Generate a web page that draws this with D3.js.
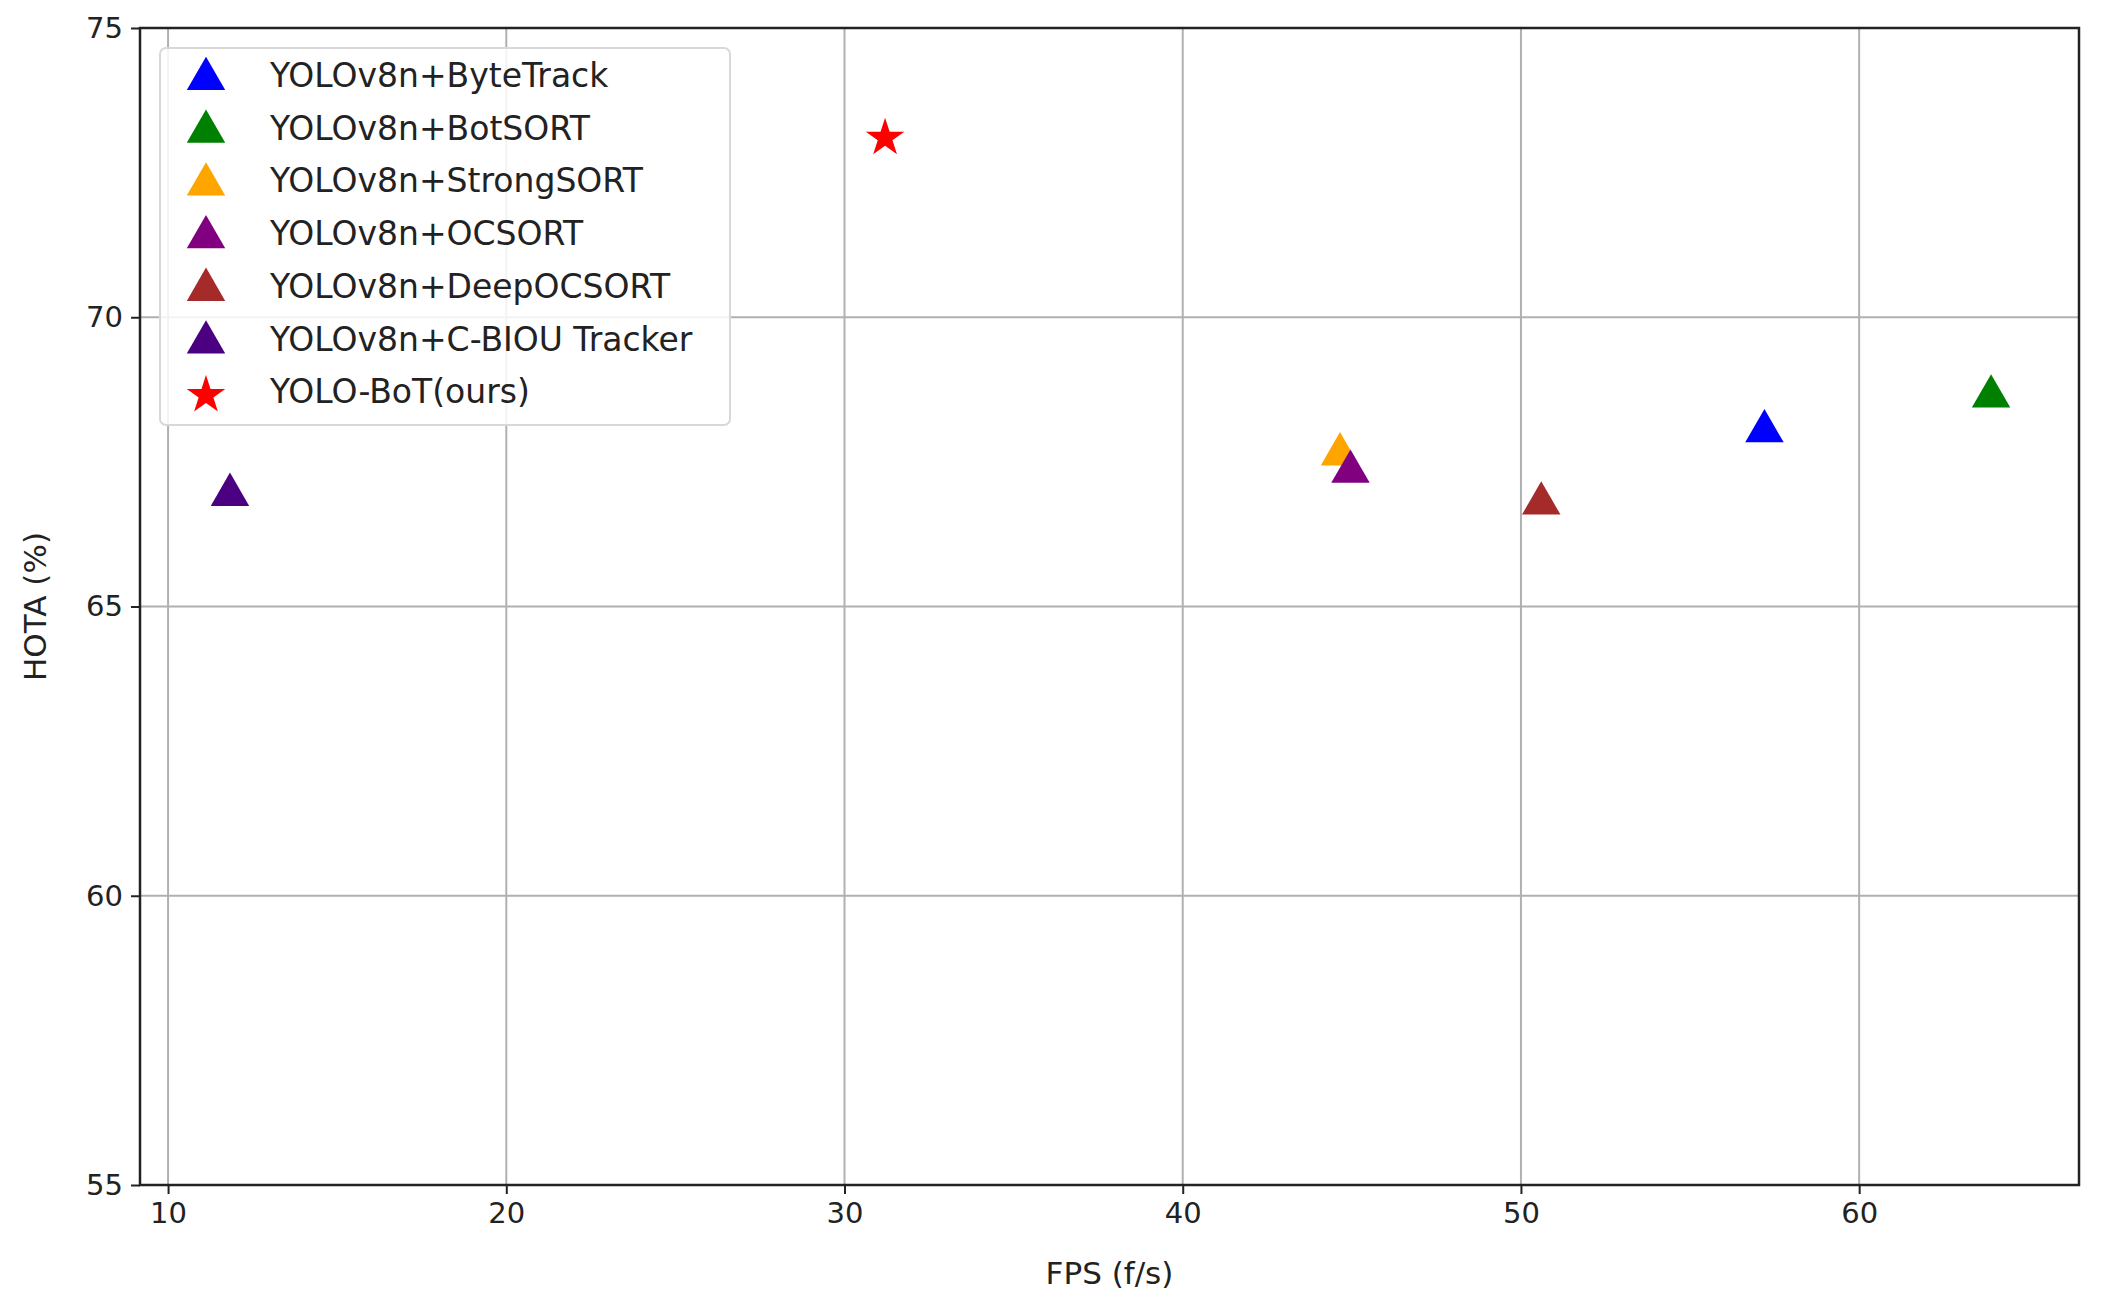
<!DOCTYPE html>
<html><head><meta charset="utf-8">
<script src="https://d3js.org/d3.v7.min.js"></script>
<style>body{margin:0;background:#fff}svg{font-family:"DejaVu Sans",sans-serif}</style>
</head><body><svg id="c" width="2103" height="1312"></svg>
<script>
const names=["YOLOv8n+ByteTrack","YOLOv8n+BotSORT","YOLOv8n+StrongSORT","YOLOv8n+OCSORT","YOLOv8n+DeepOCSORT","YOLOv8n+C-BIOU Tracker","YOLO-BoT(ours)"];
const fps=[57.2,63.9,44.65,44.96,50.6,11.83,31.2];
const hota=[68.1,68.7,67.7,67.4,66.85,67.0,73.1];
const colors=["#0000ff","#008000","#ffa500","#800080","#a52a2a","#4b0082","#ff0000"];
const shapes=["tri","tri","tri","tri","tri","tri","star"];
const xTicks=[10,20,30,40,50,60];
const yTicks=[55,60,65,70,75];

const svg=d3.select("#c");
const L=140,R=2079,T=28,B=1185;
const x=d3.scaleLinear().domain([9.17,66.5]).range([L,R]);
const y=d3.scaleLinear().domain([55,75]).range([B,T]);
const g=svg.append("g");
g.selectAll(".gx").data(xTicks).join("line").attr("x1",d=>x(d)).attr("x2",d=>x(d)).attr("y1",T).attr("y2",B).attr("stroke","#b0b0b0").attr("stroke-width",2);
g.selectAll(".gy").data(yTicks).join("line").attr("y1",d=>y(d)).attr("y2",d=>y(d)).attr("x1",L).attr("x2",R).attr("stroke","#b0b0b0").attr("stroke-width",2);
const xa=svg.append("g").attr("transform",`translate(0,${B})`).call(d3.axisBottom(x).tickValues(xTicks).tickSize(9).tickPadding(8));
const ya=svg.append("g").attr("transform",`translate(${L},0)`).call(d3.axisLeft(y).tickValues(yTicks).tickSize(9).tickPadding(8));
[xa,ya].forEach(a=>{a.selectAll("text").attr("font-size",29).attr("fill","#222").attr("font-family","DejaVu Sans");a.selectAll("line").attr("stroke","#222").attr("stroke-width",2);a.select(".domain").remove();});
svg.append("rect").attr("x",L).attr("y",T).attr("width",R-L).attr("height",B-T).attr("fill","none").attr("stroke","#222").attr("stroke-width",2.5);
svg.append("text").attr("x",(L+R)/2).attr("y",1284).attr("text-anchor","middle").attr("font-size",31).attr("fill","#222").text("FPS (f/s)");
svg.append("text").attr("transform",`translate(46,${(T+B)/2}) rotate(-90)`).attr("text-anchor","middle").attr("font-size",31).attr("fill","#222").text("HOTA (%)");
const sym=s=>s==="tri"?d3.symbol(d3.symbolTriangle,640)():d3.symbol(d3.symbolStar,460)();
const idx=d3.range(names.length);
svg.selectAll(".pt").data(idx).join("path").attr("d",i=>sym(shapes[i])).attr("fill",i=>colors[i])
 .attr("transform",i=>`translate(${x(fps[i])},${y(hota[i])+(shapes[i]==="tri"?4:0)})`);
const lg=svg.append("g");
lg.append("rect").attr("x",160).attr("y",48).attr("width",570).attr("height",377).attr("rx",6).attr("fill","#fff").attr("fill-opacity",0.85).attr("stroke","#d8d8d8").attr("stroke-width",2);
idx.forEach(i=>{
 const yy=75+i*52.7;
 lg.append("path").attr("d",sym(shapes[i])).attr("fill",colors[i]).attr("transform",`translate(206,${yy+4})`);
 lg.append("text").attr("x",270).attr("y",yy+12).attr("font-size",33).attr("fill","#222").text(names[i]);
});
</script></body></html>
